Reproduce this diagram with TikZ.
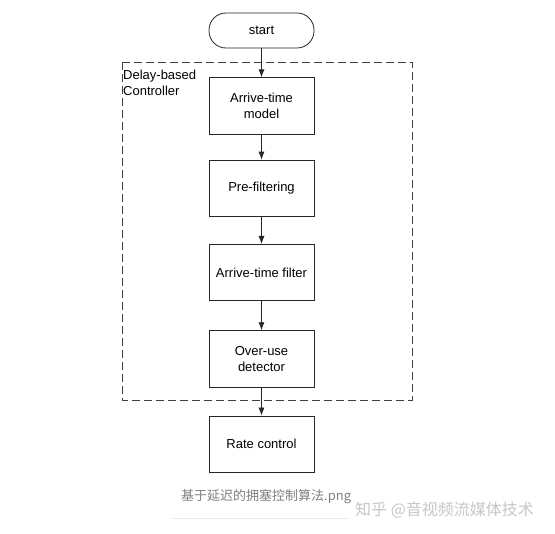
\documentclass[tikz,border=0pt]{standalone}
\usepackage{fontspec}
\setmainfont{Liberation Sans}
\newfontfamily\cjk{Noto Sans CJK SC}
\usetikzlibrary{positioning,arrows.meta}

\tikzset{
  block/.style={draw=black!85, line width=0.8pt, minimum width=105pt, minimum height=56.5pt, align=center, inner sep=2pt},
  flow/.style={-{Latex[length=8pt,width=6pt]}, line width=0.8pt, draw=black!85}
}

\begin{document}
\begin{tikzpicture}[x=1pt,y=-1pt,node distance=28pt,font=\fontsize{13}{15.5}\selectfont]
\useasboundingbox[fill=white] (0,0) rectangle (555,534);

\node[draw=black!85, line width=0.8pt, rounded corners=17pt, minimum width=105pt, minimum height=35pt] (start) at (261.5,30.5) {start};
\node[block, below=29pt of start] (model) {Arrive-time\\model};
\node[block, below=25pt of model] (prefilter) {Pre-filtering};
\node[block, below=27pt of prefilter] (filter) {Arrive-time filter};
\node[block, below=29pt of filter] (detector) {Over-use\\detector};
\node[block, below=28pt of detector] (rate) {Rate control};

\draw[black!75, line width=0.8pt, dash pattern=on 8pt off 4pt] (122,62) rectangle (412,400);
\node[anchor=north west, align=left, inner sep=1pt] (ctrl) at (122,69) {Delay-based\\Controller};

\draw[flow] (start) -- (model);
\draw[flow] (model) -- (prefilter);
\draw[flow] (prefilter) -- (filter);
\draw[flow] (filter) -- (detector);
\draw[flow] (detector) -- (rate);

% caption and watermark
\node[anchor=west, inner sep=0pt, text=black!50, font=\cjk\fontsize{13}{15}\selectfont] (caption) at (181,497) {基于延迟的拥塞控制算法.png};
\node[anchor=west, inner sep=0pt, text=black!22, font=\cjk\fontsize{16}{18}\selectfont] (mark) at (355,510) {知乎 @音视频流媒体技术};
\draw[black!8, line width=0.8pt] (172,518) -- (350,518);
\end{tikzpicture}
\end{document}
